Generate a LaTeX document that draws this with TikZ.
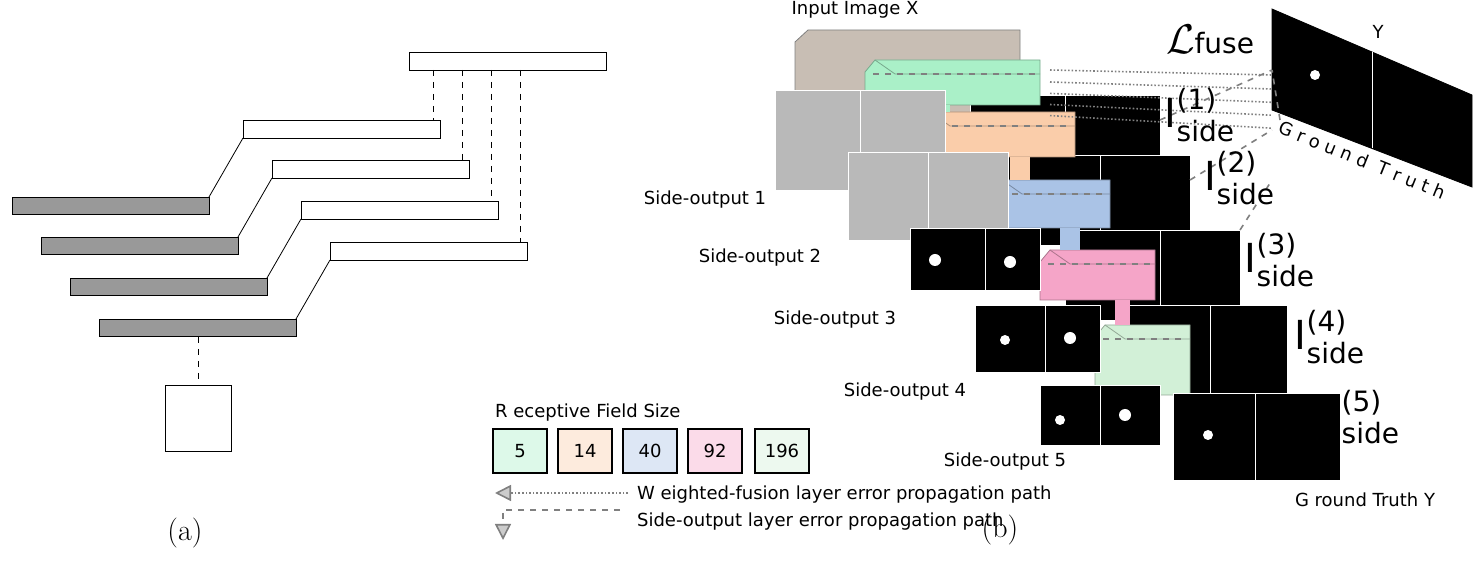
\documentclass[tikz,border=0pt]{standalone}
\usepackage{amsmath}
\usepackage{fontspec}
\setsansfont{DejaVu Sans}
\usetikzlibrary{arrows.meta}
\definecolor{rfa}{RGB}{170,240,200}
\definecolor{rfb}{RGB}{250,205,170}
\definecolor{rfc}{RGB}{170,195,230}
\definecolor{rfd}{RGB}{245,165,200}
\definecolor{rfe}{RGB}{210,240,215}
\definecolor{tanbox}{RGB}{200,190,180}
\tikzset{
  graybar/.style={draw,fill=gray!80},
  whitebar/.style={draw,fill=white},
  img/.style={fill=black,draw=white,thin},
  ftimg/.style={fill=gray!55,draw=white,thin},
  lbl/.style={font=\sffamily\fontsize{9}{10}\selectfont},
  big/.style={font=\sffamily\fontsize{20}{22}\selectfont},
  rfbox/.style={draw,very thick,minimum width=27pt,minimum height=22pt,font=\sffamily\fontsize{9}{10}\selectfont},
  fuse/.style={gray,densely dotted,thick},
  side/.style={gray,dashed,thick},
}
\begin{document}
\begin{tikzpicture}[x=0.5pt,y=-0.5pt]
\useasboundingbox (0,0) rectangle (1482,565);
%% (a)
\draw[whitebar] (409,52) rectangle (606,70);
\foreach \i/\x/\y in {0/12/197,1/41/237,2/70/278,3/99/319} {
  \draw[graybar] (\x,\y) rectangle +(197,17);
  \draw[whitebar] (\x+231,\y-77) rectangle +(197,18);
  \draw (\x+197,\y) -- (\x+231,\y-59);
  \draw[dashed] (\x+421,70) -- (\x+421,\y-77);
}
\draw (165,385) rectangle (231,451);
\draw[dashed] (198,337) -- (198,385);
\node[font=\fontsize{15}{17}\selectfont] at (185,533) {(a)};
%% (b) input volume
\draw[fill=tanbox,draw=gray] (795,42) -- (808,30) -- (1020,30) -- (1020,110) -- (1005,120) -- (795,120) -- cycle;
%% black image pairs behind
\foreach \x/\y/\r in {1065/95/1160,1100/155/1190,1160/230/1240,1210/305/1287} {
  \draw[img] (\x-95,\y) rectangle (\x,\y+90);
  \draw[img] (\x,\y) rectangle (\r,\y+90);
}
%% prisms
\foreach \c/\x/\y/\w/\h in {rfa/865/60/175/45,rfb/920/112/155/45,rfc/992/180/118/48,rfd/1040/250/115/50,rfe/1095/325/95/70} {
  \draw[fill=\c,draw=\c!70!black] (\x,\y+12) -- (\x+10,\y) -- (\x+\w,\y) -- (\x+\w,\y+\h) -- (\x,\y+\h) -- cycle;
  \draw[\c!70!black] (\x+10,\y) -- (\x+10+20,\y+14) -- (\x+\w,\y+14);
  \draw[side] (\x+8,\y+14) -- (\x+\w-5,\y+14);
}
\fill[rfa] (930,105) rectangle (950,112);
\fill[rfb] (1010,157) rectangle (1030,180);
\fill[rfc] (1060,228) rectangle (1080,250);
\fill[rfd] (1115,300) rectangle (1130,325);
%% feature images
\foreach \x/\y/\w/\h in {775/90/85/100,848/152/80/88} {
  \draw[ftimg] (\x,\y) rectangle +(\w,\h);
  \draw[ftimg] (\x+\w,\y) rectangle +(\w,\h);
}
\draw[img] (910,228) rectangle (985,290);
\draw[img] (985,228) rectangle (1040,290);
\draw[img] (975,305) rectangle (1045,372);
\draw[img] (1045,305) rectangle (1100,372);
\draw[img] (1040,385) rectangle (1100,445);
\draw[img] (1100,385) rectangle (1160,445);
\fill[white] (1060,420) circle (5); \fill[white] (1125,415) circle (6);
\fill[white] (935,260) circle (6); \fill[white] (1010,262) circle (6);
\fill[white] (1005,340) circle (5); \fill[white] (1070,338) circle (6);
\draw[img] (1173,393) rectangle (1255,480);
\draw[img] (1255,393) rectangle (1340,480);
\fill[white] (1208,435) circle (5);
%% ground truth
\draw[fill=black] (1272,9) -- (1472,95) -- (1472,187) -- (1272,110) -- cycle;
\draw[white] (1372,52) -- (1372,148);
\fill[white] (1315,75) circle (5);
\node[lbl] at (1378,32) {Y};
\node[lbl,rotate=-22] at (1362,160) {G r o u n d \ T r u t h};
\node[lbl] at (1365,500) {G round Truth Y};
%% loss paths
\foreach \y in {100,140,178,215,252} \draw[fuse] (1050,\y*0.3+40) -- (1272,40+\y*0.35);
\foreach \x/\y in {1160/120,1190/180,1240/230,1280/120} \draw[side] (\x,\y) -- (1272,\y-50);
\node[big] at (1210,40) {$\mathcal{L}$\fontsize{14}{16}\selectfont fuse};
\foreach \i/\x/\y in {1/1200/115,2/1240/178,3/1280/260,4/1330/337,5/1365/417}
  \node[big] at (\x,\y) {I$^{\text{\sffamily(\i)}}_{\text{\sffamily side}}$};
%% labels
\node[lbl] at (855,10) {Input Image X};
\foreach \i/\x/\y in {1/705/200,2/760/258,3/835/320,4/905/392,5/1005/462}
  \node[lbl] at (\x,\y) {Side-output \i};
%% legend
\node[lbl,anchor=west] at (488,413) {R eceptive Field Size};
\foreach \c/\x/\t in {rfa/520/5,rfb/585/14,rfc/650/40,rfd/715/92,rfe/782/196}
  \node[rfbox,fill=\c!40] (rf\t) at (\x,451) {\t};
\coordinate (wfa) at (628,493);
\coordinate (wfb) at (495,493);
\draw[fuse,-{Triangle[width=8pt,length=8pt,fill=gray!40]}] (wfa) -- (wfb);
\node[lbl,anchor=west] at (630,495) {W eighted-fusion layer error propagation path};
\coordinate (sa) at (620,510);
\coordinate (sb) at (503,510);
\draw[side,-{Triangle[width=8pt,length=8pt,fill=gray!40]}] (sa) -- (sb) -- (503,540);
\node[lbl,anchor=west] at (630,522) {Side-output layer error propagation path};
\node[font=\fontsize{15}{17}\selectfont] at (1000,530) {(b)};
\end{tikzpicture}
\end{document}
